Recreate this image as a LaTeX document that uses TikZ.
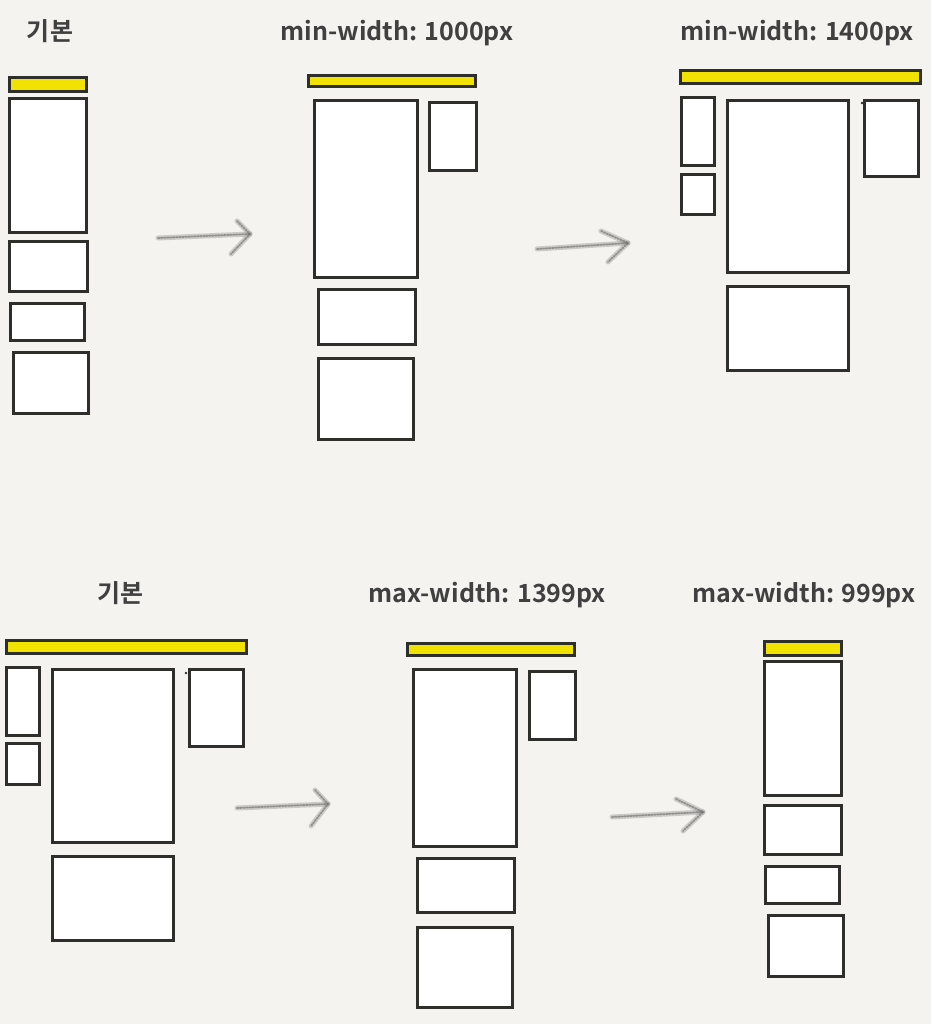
\documentclass[tikz,border=0pt]{standalone}
\usepackage{fontspec}
\setmainfont{Noto Sans CJK KR}[BoldFont={* Bold}]
\newfontfamily\labelfont{Noto Sans CJK KR Bold}
\definecolor{bgc}{HTML}{F4F3EF}
\definecolor{linec}{HTML}{2E2E2A}
\definecolor{barc}{HTML}{F2E200}
\definecolor{textc}{HTML}{404040}
\definecolor{pencilc}{HTML}{8E8E8C}
\tikzset{
  panel/.style={draw=linec, line width=2.8pt, fill=white, inner sep=0pt, outer sep=0pt, rectangle},
  bar/.style={panel, fill=barc},
  title/.style={font=\labelfont\fontsize{25}{28}\selectfont, text=textc, anchor=base, inner sep=0pt},
  pencil/.style={draw=pencilc, line width=5pt, line cap=round, line join=round, opacity=0.4},
  pencilgrain/.style={draw=pencilc!70!black, line width=1.8pt, line cap=round, dash pattern=on 1.5pt off 1.5pt, opacity=0.55},
}
\newcommand\rbox[6]{\node[#6, minimum width={(#4-#2-2.6)*1pt}, minimum height={(#5-#3-2.6)*1pt}] (#1) at ({(#2+#4)/2},{(#3+#5)/2}) {};}
\begin{document}
\begin{tikzpicture}[x=1pt,y=-1pt]
\useasboundingbox[fill=bgc] (0,0) rectangle (931,1024);
% titles
\node[title] (t1) at (50,41) {기본};
\node[title] (t2) at (397,41) {min-width: 1000px};
\node[title] (t3) at (797,41) {min-width: 1400px};
\node[title] (t4) at (120,602) {기본};
\node[title] (t5) at (487,602) {max-width: 1399px};
\node[title] (t6) at (804,602) {max-width: 999px};
% column 1 (top)
\rbox{a0}{8}{76}{88}{93}{bar}
\rbox{a1}{8}{97}{88}{234}{panel}
\rbox{a2}{8}{240}{89}{293}{panel}
\rbox{a3}{9}{302}{86}{342}{panel}
\rbox{a4}{12}{351}{90}{415}{panel}
% column 2 (top)
\rbox{b0}{307}{74}{477}{88}{bar}
\rbox{b1}{313}{99}{419}{279}{panel}
\rbox{b2}{428}{101}{478}{172}{panel}
\rbox{b3}{317}{288}{417}{346}{panel}
\rbox{b4}{317}{357}{415}{441}{panel}
% column 3 (top)
\rbox{c0}{679}{69}{922}{85}{bar}
\rbox{c1}{680}{96}{716}{167}{panel}
\rbox{c2}{680}{173}{716}{216}{panel}
\rbox{c3}{726}{99}{850}{274}{panel}
\rbox{c4}{863}{99}{920}{178}{panel}
\rbox{c5}{726}{285}{850}{372}{panel}
\fill[linec] (862,103) circle (1.4);
% column 1 (bottom)
\rbox{d0}{5}{639}{248}{655}{bar}
\rbox{d1}{5}{666}{41}{737}{panel}
\rbox{d2}{5}{742}{41}{786}{panel}
\rbox{d3}{51}{668}{175}{844}{panel}
\rbox{d4}{188}{668}{245}{748}{panel}
\rbox{d5}{51}{855}{175}{942}{panel}
\fill[linec] (186,673) circle (1.4);
% column 2 (bottom)
\rbox{e0}{406}{642}{576}{657}{bar}
\rbox{e1}{412}{668}{518}{848}{panel}
\rbox{e2}{528}{670}{577}{741}{panel}
\rbox{e3}{416}{857}{516}{914}{panel}
\rbox{e4}{416}{926}{514}{1009}{panel}
% column 3 (bottom)
\rbox{f0}{763}{640}{843}{657}{bar}
\rbox{f1}{763}{660}{843}{797}{panel}
\rbox{f2}{763}{804}{843}{856}{panel}
\rbox{f3}{764}{865}{841}{905}{panel}
\rbox{f4}{767}{914}{845}{978}{panel}
% arrows
\coordinate (p1s) at (158,238); \coordinate (p1e) at (250,234);
\coordinate (p1u) at (237,221); \coordinate (p1l) at (231,254);
\coordinate (p2s) at (537,249); \coordinate (p2e) at (628,243);
\coordinate (p2u) at (601,231); \coordinate (p2l) at (608,262);
\coordinate (p3s) at (237,808); \coordinate (p3e) at (328,804);
\coordinate (p3u) at (315,790); \coordinate (p3l) at (311,826);
\coordinate (p4s) at (612,817); \coordinate (p4e) at (703,812);
\coordinate (p4u) at (676,799); \coordinate (p4l) at (683,831);
\foreach \i in {1,2,3,4}{
  \draw[pencil] (p\i s) -- (p\i e);
  \draw[pencil] (p\i u) -- (p\i e) -- (p\i l);
  \draw[pencilgrain] (p\i s) -- (p\i e);
  \draw[pencilgrain] (p\i u) -- (p\i e) -- (p\i l);
}
\end{tikzpicture}
\end{document}
